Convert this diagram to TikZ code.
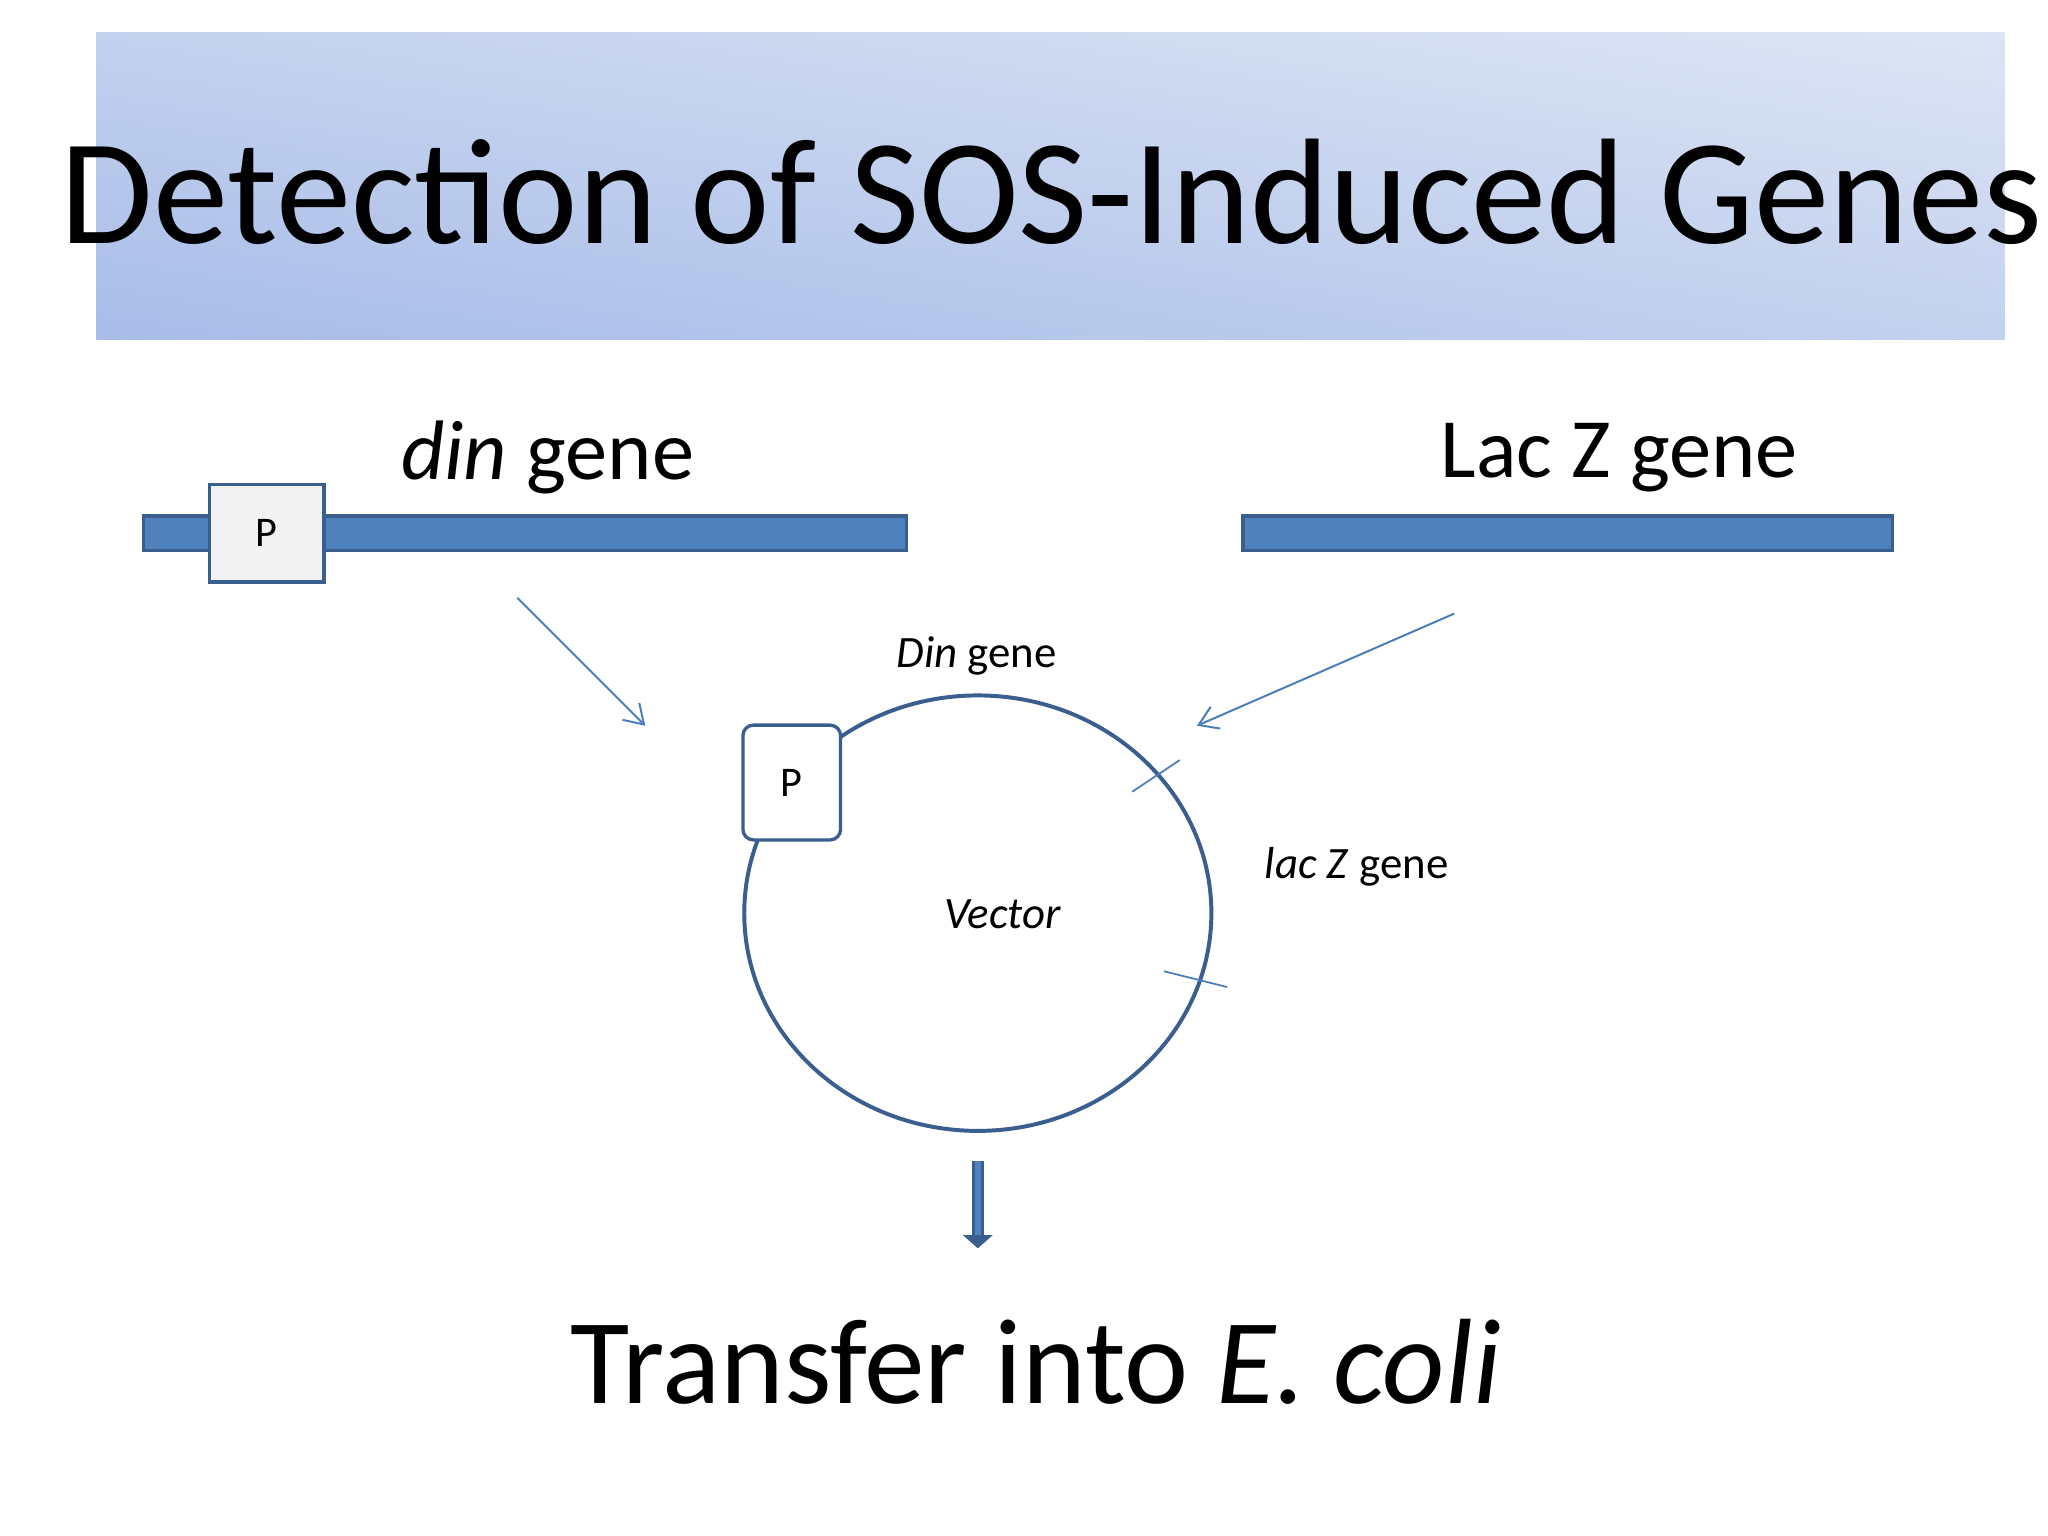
\documentclass[tikz,border=0pt]{standalone}
\usepackage{fontspec}
\setmainfont{Carlito}
\usetikzlibrary{arrows.meta,shadings,shapes.geometric}
\definecolor{barblue}{HTML}{4F81BD}
\definecolor{edgeblue}{HTML}{3A5F8F}
\definecolor{thinblue}{HTML}{4A7EBB}
\definecolor{bandA}{HTML}{A7BCE8}
\definecolor{bandB}{HTML}{DDE5F4}
\definecolor{bandC}{HTML}{C3D1EE}
\tikzset{
  bar/.style={fill=barblue,draw=edgeblue,line width=2.5pt},
  pbox/.style={draw=edgeblue,line width=2.5pt,font=\fontsize{32}{36}\selectfont},
  thinarrow/.style={draw=thinblue,line width=1.5pt,-{Straight Barb[length=14pt,width=18pt]}},
  tick/.style={draw=thinblue,line width=1.3pt},
  lbl/.style={font=\fontsize{34}{40}\selectfont,inner sep=0pt},
  big/.style={font=\fontsize{64}{70}\selectfont,inner sep=0pt}
}
\begin{document}
\begin{tikzpicture}[x=1pt,y=-1pt]
\useasboundingbox (0,0) rectangle (1552,1164);
\fill[white] (0,0) rectangle (1552,1164);
% title band
\shade[lower left=bandA,upper right=bandB,lower right=bandC,upper left=bandC] (73,25) rectangle (1519,257);
\node[font=\fontsize{114}{120}\selectfont,inner sep=0pt] (title) at (797,145) {Detection of SOS-Induced Genes};
% din gene bar
\node[bar,minimum width=578pt,minimum height=26pt,inner sep=0pt] (dinbar) at (398,404) {};
\node[pbox,fill=black!5,minimum width=87pt,minimum height=74pt,inner sep=0pt] (pdin) at (202,404) {P};
\node[big] (dinlbl) at (415,347) {\textit{din} gene};
% lac z bar
\node[bar,minimum width=492pt,minimum height=26pt,inner sep=0pt] (lacbar) at (1188,404) {};
\node[big] (laclbl) at (1227,347) {Lac Z gene};
% arrows
\coordinate (a1s) at (392,453); \coordinate (a1e) at (489,550);
\coordinate (a2s) at (1102,465); \coordinate (a2e) at (907,550);
\draw[thinarrow] (a1s) -- (a1e);
\draw[thinarrow] (a2s) -- (a2e);
% vector
\node[draw=edgeblue,line width=3pt,ellipse,minimum width=354pt,minimum height=330pt,inner sep=0pt] (vec) at (741,692) {};
\node[pbox,fill=white,rounded corners=8pt,minimum width=74pt,minimum height=87pt,inner sep=0pt] (pvec) at (600,593) {P};
\draw[tick] (858,600) -- (894,576);
\draw[tick] (882,736) -- (930,748);
\node[lbl] (dinsmall) at (740,497) {\textit{Din} gene};
\node[lbl] (lacsmall) at (1028,657) {\textit{lac Z} gene};
\node[lbl] (veclbl) at (760,693) {\textit{Vector}};
% down arrow
\coordinate (d1) at (741,880); \coordinate (d2) at (741,946);
\draw[edgeblue,line width=9pt,-{Triangle[length=10pt,width=22pt]}] (d1) -- (d2);
\draw[barblue,line width=5pt,shorten >=10pt] (d1) -- (d2);
\node[font=\fontsize{92}{100}\selectfont,inner sep=0pt] (transfer) at (785,1032) {Transfer into \textit{E. coli}};
\end{tikzpicture}
\end{document}
